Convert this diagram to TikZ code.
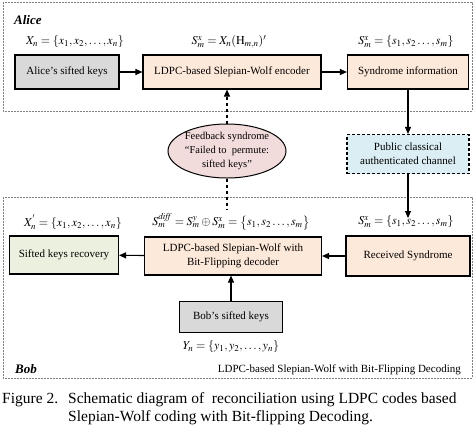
\documentclass[tikz,border=0pt]{standalone}
\usepackage{mathptmx}
\usepackage{fontspec}
\setmainfont{Liberation Serif}
\usetikzlibrary{arrows.meta, shapes.geometric}

\definecolor{keygray}{HTML}{D9D9D9}
\definecolor{peach}{HTML}{FDE9D9}
\definecolor{chanblue}{HTML}{DBEEF3}
\definecolor{fbpink}{HTML}{F2DCDB}
\definecolor{recgreen}{HTML}{EBF1DE}

\tikzset{
    box/.style={draw, line width=1.1pt, align=center, font=\fontsize{11}{14}\selectfont},
    frame/.style={draw=gray, line width=1pt, dash pattern=on 2pt off 1pt},
    arr/.style={-{Triangle[length=7pt,width=6pt]}, line width=1.1pt},
    formula/.style={font=\fontsize{12}{14}\selectfont},
    party/.style={anchor=base west, inner sep=0pt, font=\bfseries\itshape\fontsize{13}{15}\selectfont},
}

\begin{document}
\begin{tikzpicture}[x=1pt, y=-1pt]
    \useasboundingbox (0,0) rectangle (474,424);
    % frames
    \draw[frame] (3,2) rectangle (472,111);
    \draw[frame] (3,197) rectangle (472,378);
    \node[party] (alice) at (14,24) {Alice};
    \node[party] (bob) at (15,373) {Bob};
    \node[anchor=base east, inner sep=0pt, font=\fontsize{11}{13}\selectfont] (title) at (461,372) {LDPC-based Slepian-Wolf with Bit-Flipping Decoding};

    % Alice
    \node[box, fill=keygray, minimum width=104pt, minimum height=34pt] (akeys) at (67,72) {Alice's sifted keys};
    \node[box, fill=peach, minimum width=178pt, minimum height=34pt] (enc) at (232,72) {LDPC-based Slepian-Wolf encoder};
    \node[box, fill=peach, minimum width=121pt, minimum height=34pt] (synd) at (408,72) {Syndrome information};
    \node[formula] (xn) at (75,42) {$X_n=\{x_1,x_2,\ldots,x_n\}$};
    \node[formula] (smenc) at (229,42) {$S_m^x=X_n(\mathrm{H}_{m,n})'$};
    \node[formula] (smsynd) at (406,42) {$S_m^x=\{s_1,s_2\ldots,s_m\}$};

    % channel and feedback
    \node[box, fill=chanblue, densely dashed, minimum width=122pt, minimum height=39pt] (chan) at (408,154) {Public classical\\authenticated channel};
    \node[draw, ellipse, line width=1pt, fill=fbpink, minimum width=118pt, minimum height=54pt, inner xsep=-4pt, inner ysep=-1pt, align=center, font=\fontsize{10.5}{14}\selectfont] (fb) at (227,151) {Feedback syndrome\\``Failed to\ \ permute:\\sifted keys''};

    % Bob
    \node[box, fill=recgreen, minimum width=109pt, minimum height=38pt] (recov) at (64,255) {Sifted keys recovery};
    \node[box, fill=peach, minimum width=177pt, minimum height=38pt] (dec) at (233,256) {LDPC-based Slepian-Wolf with\\Bit-Flipping decoder};
    \node[box, fill=peach, minimum width=124pt, minimum height=40pt] (rsynd) at (408,256) {Received Syndrome};
    \node[box, fill=keygray, minimum width=103pt, minimum height=31pt] (bkeys) at (231,317) {Bob's sifted keys};
    \node[formula] (xnp) at (73,222) {$X_n^{'}=\{x_1,x_2,\ldots,x_n\}$};
    \node[formula] (sdiff) at (231,222) {$S_m^{\mathit{diff}}=S_m^y\oplus S_m^x=\bigl\{s_1,s_2\ldots,s_m\bigr\}$};
    \node[formula] (smbob) at (406,222) {$S_m^x=\{s_1,s_2\ldots,s_m\}$};
    \node[formula] (yn) at (231,347) {$Y_n=\{y_1,y_2,\ldots,y_n\}$};
    \coordinate (rin) at (408,218);

    % connectors
    \draw[arr] (akeys) -- (enc);
    \draw[arr] (enc) -- (synd);
    \draw[arr] (synd) -- (chan);
    \draw[arr] (chan) -- (rin);
    \draw[arr, dashed] (fb) -- (enc.south -| fb);
    \draw[line width=1.1pt, dashed] (fb) -- (sdiff.north -| fb);
    \draw[arr] (rsynd) -- (dec);
    \draw[arr] (dec) -- (recov);
    \draw[arr] (bkeys) -- (dec.south -| bkeys);

    % caption
    \node[anchor=base west, inner sep=0pt, font=\fontsize{15.5}{18}\selectfont] (capnum) at (2,403) {Figure 2.};
    \node[anchor=north west, align=left, inner sep=0pt, font=\fontsize{15.5}{18}\selectfont] (cap) at (68,392) {Schematic diagram of\ \ reconciliation using LDPC codes based\\Slepian-Wolf coding with Bit-flipping Decoding.};
\end{tikzpicture}
\end{document}
